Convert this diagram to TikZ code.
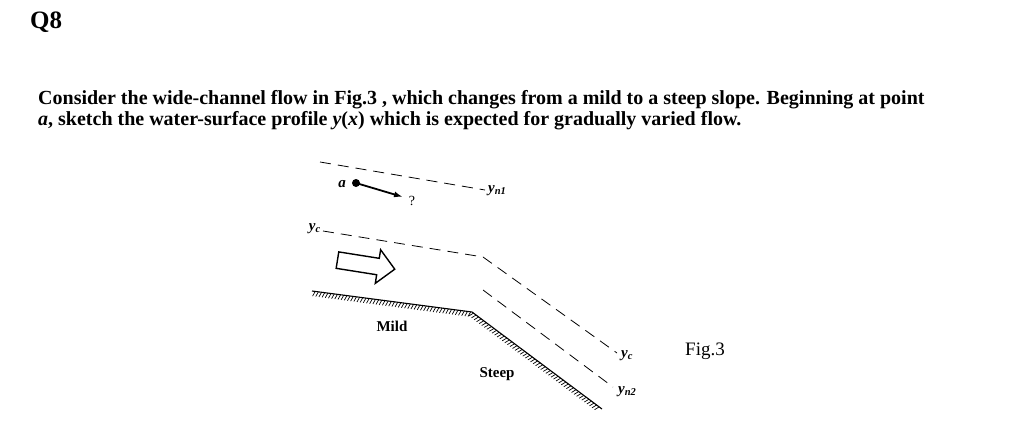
\documentclass[tikz,border=0pt]{standalone}
\usepackage{fontspec}
\setmainfont{Liberation Serif}
\usetikzlibrary{decorations.markings,shapes.arrows,arrows.meta}
\begin{document}
\begin{tikzpicture}[x=1pt,y=-1pt,
  txt/.style={inner sep=0pt,font=\bfseries\fontsize{20}{22}\selectfont},
  lbl/.style={inner sep=1pt,font=\bfseries\fontsize{15}{17}\selectfont},
  dsh/.style={dash pattern=on 11pt off 7pt,line width=0.8pt},
  bed/.style={line width=1.1pt,postaction={decorate},decoration={markings,
     mark=between positions 0.01 and 0.99 step 3.2pt with {\draw[line width=0.7pt] (0,0)--(-2,5);}}}]
\useasboundingbox (0,0) rectangle (1024,434);
\node[txt,anchor=west,font=\bfseries\fontsize{25}{27}\selectfont] (q) at (30,22) {Q8};
\node[txt,anchor=west] (l1) at (38,100) {Consider the wide-channel flow in Fig.3 , which changes from a mild to a steep slope. Beginning at point};
\node[txt,anchor=west] (l2) at (38,121) {\itshape a\upshape, sketch the water-surface profile \itshape y\upshape(\itshape x\upshape) which is expected for gradually varied flow.};
% yn1
\coordinate (n1s) at (320,162);
\coordinate (n1e) at (485,190);
\draw[dsh] (n1s)--(n1e);
\node[lbl,anchor=west] (yn1) at (487,191) {\itshape y\textsubscript{n1}};
% a
\fill (356,183) circle (4pt) coordinate (adot);
\node[lbl,anchor=east] (a) at (347,184) {\itshape a};
\coordinate (aend) at (403,197);
\draw[line width=1.8pt,-{Latex[length=9pt,width=6pt]}] (adot)--(aend);
\node[lbl,font=\fontsize{14}{16}\selectfont] (qm) at (412,201) {?};
% yc
\node[lbl,anchor=east] (yc1) at (322,229) {\itshape y\textsubscript{c}};
\coordinate (c1) at (323,231);
\coordinate (c2) at (483,257);
\coordinate (c3) at (617,353);
\draw[dsh] (c1)--(c2)--(c3);
\node[lbl,anchor=west] (yc2) at (620,356) {\itshape y\textsubscript{c}};
% yn2
\coordinate (d1) at (483,290);
\coordinate (d2) at (613,387);
\draw[dsh] (d1)--(d2);
\node[lbl,anchor=west] (yn2) at (617,392) {\itshape y\textsubscript{n2}};
% bed
\coordinate (b1) at (312,291);
\coordinate (b2) at (472,312);
\coordinate (b3) at (602,409);
\draw[bed] (b1)--(b2)--(b3);
% block arrow
\node[single arrow,draw,line width=1.4pt,minimum height=58pt,minimum width=34pt,
  single arrow head extend=7pt,inner sep=6pt,rotate=-9] (flow) at (362,264) {};
\node[lbl,font=\bfseries\fontsize{15}{17}\selectfont] (mild) at (392,326) {Mild};
\node[lbl,font=\bfseries\fontsize{15}{17}\selectfont] (steep) at (497,374) {Steep};
\node[lbl,font=\fontsize{19}{21}\selectfont] (fig) at (705,351) {Fig.3};
\end{tikzpicture}
\end{document}
